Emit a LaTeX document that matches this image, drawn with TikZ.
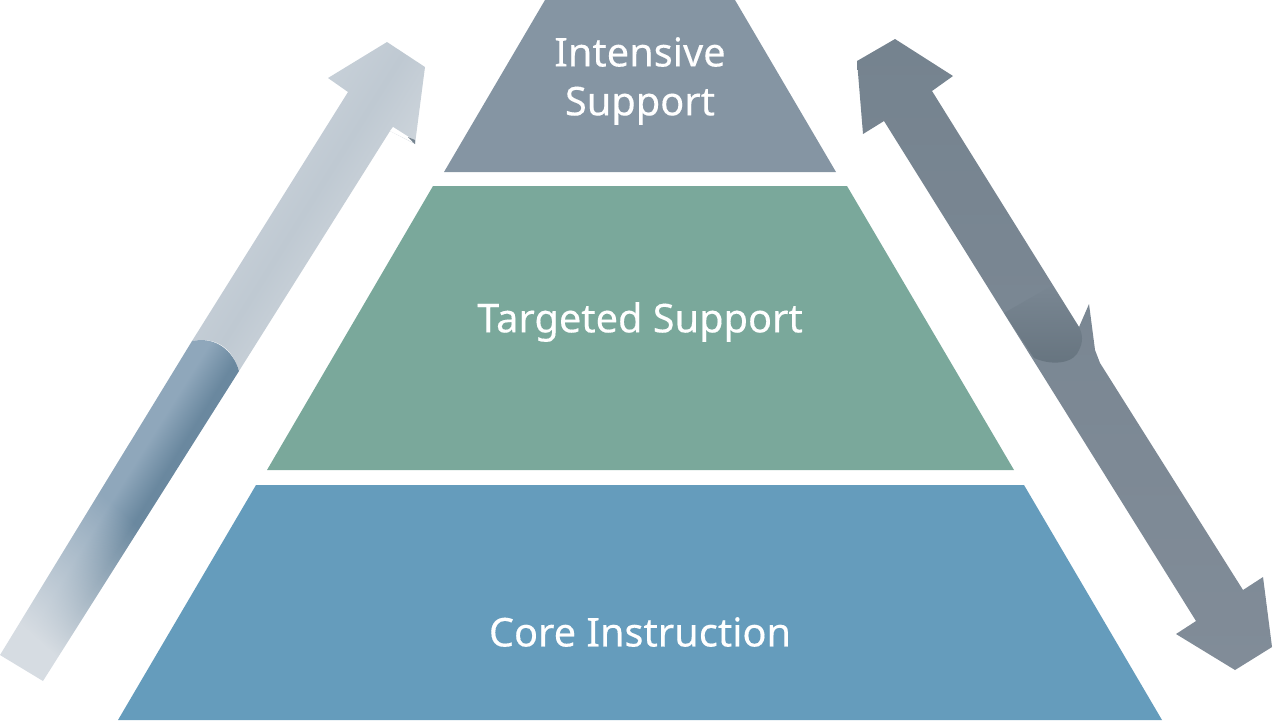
\documentclass[tikz,border=0pt]{standalone}
\usepackage{fontspec}
\setmainfont{Noto Sans}
\usetikzlibrary{fadings}
\definecolor{tiertop}{HTML}{8595A3}
\definecolor{tiermid}{HTML}{7AA89B}
\definecolor{tierlow}{HTML}{659CBC}
\definecolor{risepale}{HTML}{DFE3E7}
\definecolor{risegrey}{HTML}{BFC9D2}
\definecolor{riselow}{HTML}{D3DAE1}
\definecolor{risetail}{HTML}{D6DCE2}
\definecolor{risedark}{HTML}{6A889F}
\definecolor{risemid}{HTML}{8FA7BB}
\definecolor{bothdark}{HTML}{75838F}
\definecolor{bothlow}{HTML}{818C98}
\definecolor{bothblob}{HTML}{66747F}
\pgfdeclarehorizontalshading{riseacross}{100bp}{color(0bp)=(risemid); color(48bp)=(risemid); color(53.5bp)=(risedark); color(100bp)=(risedark)}
\tikzfading[name=risefade, left color=transparent!100, right color=transparent!0, middle color=transparent!0]
\tikzfading[name=blobfade, top color=transparent!100, bottom color=transparent!0]
\tikzset{
  tier/.style={fill=#1, draw=none},
  tierlabel/.style={text=white, align=center, font=\fontsize{11.3}{13.9}\selectfont\addfontfeature{FakeBold=0.25}, inner sep=0pt},
}
\begin{document}
\begin{tikzpicture}[x=0.01cm, y=-0.01cm]
  \useasboundingbox (0,0) rectangle (1280,720);
  % pyramid
  \fill[tier=tiertop] (545,0) -- (735,0) -- (836,172) -- (444,172) -- cycle;
  \fill[tier=tiermid] (433,186) -- (847,186) -- (1014,470) -- (267,470) -- cycle;
  \fill[tier=tierlow] (256,485) -- (1024,485) -- (1162,720) -- (118,720) -- cycle;
  \node[tierlabel] (intensive) at (640,81) {Intensive\\Support};
  \node[tierlabel] (targeted) at (640,322) {Targeted Support};
  \node[tierlabel] (core) at (640,632) {Core Instruction};
  % rising arrow
  \path[left color=riselow, right color=risepale, middle color=risegrey, shading angle=58]
    (192,341) -- (348,92) -- (328,78) -- (387,42) -- (425,67) -- (415,144) -- (390,131) -- (239,371) .. controls (233,350) and (218,336) .. cycle;
  \fill[risetail] (0,655) -- (129.6,443) -- (174.5,473) -- (43,681) -- cycle;
  \path[shading=riseacross, shading angle=-32, path fading=risefade, fading angle=58]
    (0,655) -- (192,341) .. controls (215,336) and (233,350) .. (239,371) -- (43,681) -- cycle;
  \fill[white] (393,127) -- (412,139) -- (412,142) -- (390,131) -- cycle;
  \fill[bothdark] (408,137) -- (415,140) -- (415,144) -- cycle;
  % two way arrow
  \path[top color=bothdark, bottom color=bothlow]
    (895,39) -- (857,61) -- (863,134) -- (884,121) -- (1196,621) -- (1176,634) -- (1235,670) -- (1272,647) -- (1263,577) -- (1243,590) -- (1100,363) -- (1095,350) -- (1089,304) -- (1079,327) -- (932,91) -- (953,76) -- cycle;
  \fill[bothblob, path fading=blobfade] (1034,358) .. controls (1055,367) and (1075,362) .. (1079,350) .. controls (1083,342) and (1083,335) .. (1079,327) -- (1053,285) -- (1004,313) -- cycle;
\end{tikzpicture}
\end{document}
